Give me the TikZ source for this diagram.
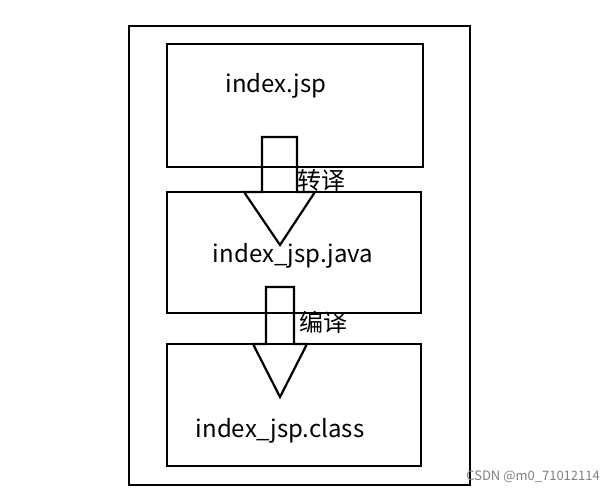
\documentclass[tikz,border=0pt]{standalone}
\usepackage{fontspec}
\setmainfont{Noto Sans CJK SC}
\begin{document}
\begin{tikzpicture}[x=1pt,y=-1pt,
  box/.style={draw,line width=2.2pt},
  arr/.style={draw,line width=2.2pt,line join=miter},
  lbl/.style={font=\fontsize{24}{28}\selectfont,inner sep=0pt}]
\useasboundingbox (0,0) rectangle (614,494);
\draw[box] (129,26) rectangle (470,485);
\node[box,minimum width=256pt,minimum height=123pt,inner sep=0pt] (b1) at (295,105.5) {};
\node[box,minimum width=254pt,minimum height=121pt,inner sep=0pt] (b2) at (294,252.5) {};
\node[box,minimum width=254pt,minimum height=122pt,inner sep=0pt] (b3) at (294,405) {};
\node[lbl] (t1) at (276,86) {index.jsp};
\node[lbl] (t2) at (293,256) {index\_jsp.java};
\node[lbl] (t3) at (280,431) {index\_jsp.class};
\draw[arr] (262,192) -- (262,137) -- (297,137) -- (297,192) -- (315,192) -- (280,245) -- (244,192) -- cycle;
\draw[arr] (266,344) -- (266,287) -- (294,287) -- (294,344) -- (307,344) -- (280,397) -- (253,344) -- cycle;
\node[lbl,anchor=west] (l1) at (297,180) {转译};
\node[lbl,anchor=west] (l2) at (299,322) {编译};
\node[font=\fontsize{13}{15}\selectfont,text=gray,anchor=east,inner sep=0pt] (wm) at (600,477) {CSDN @m0\_71012114};
\end{tikzpicture}
\end{document}
